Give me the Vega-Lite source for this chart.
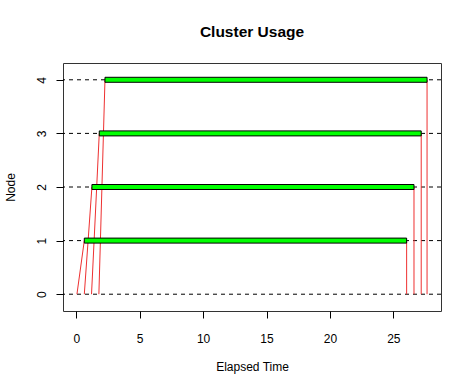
{
  "$schema": "https://vega.github.io/schema/vega-lite/v6.json",
  "width": 378,
  "height": 248,
  "autosize": {"type": "none"},
  "padding": {"left": 63, "top": 63, "right": 33, "bottom": 80},
  "background": "white",
  "title": {"text": "Cluster Usage", "font": "Liberation Sans", "fontSize": 15.5, "fontWeight": "bold", "color": "black", "anchor": "middle", "offset": 23},
  "config": {
    "view": {"stroke": "#333333", "strokeWidth": 1},
    "axis": {"grid": false, "domain": false, "ticks": true, "tickColor": "black", "tickSize": 7, "labelFont": "Liberation Sans", "labelFontSize": 12, "labelColor": "black", "titleFont": "Liberation Sans", "titleFontSize": 12, "titleFontWeight": "normal", "titleColor": "black"}
  },
  "datasets": {
    "levels": [{"node": 0}, {"node": 1}, {"node": 2}, {"node": 3}, {"node": 4}],
    "jobs": [
      {"node": 1, "send": 0.05, "start": 0.63, "end": 26.05},
      {"node": 2, "send": 0.63, "start": 1.23, "end": 26.63},
      {"node": 3, "send": 1.2, "start": 1.81, "end": 27.2},
      {"node": 4, "send": 1.78, "start": 2.26, "end": 27.66}
    ]
  },
  "layer": [
    {
      "data": {"name": "levels"},
      "mark": {"type": "rule", "strokeDash": [4, 4], "color": "black", "strokeWidth": 1},
      "encoding": {
        "y": {"field": "node", "type": "quantitative", "scale": {"domain": [-0.22, 4.22], "nice": false, "zero": false},
          "axis": {"title": "Node", "values": [0, 1, 2, 3, 4], "format": "d", "labelAngle": 270, "labelAlign": "center", "labelBaseline": "alphabetic", "labelPadding": 11, "titlePadding": 18}}
      }
    },
    {
      "data": {"name": "jobs"},
      "mark": {"type": "rule", "color": "#ee3030", "strokeWidth": 1},
      "encoding": {
        "x": {"field": "start", "type": "quantitative", "scale": {"domain": [-1.05, 28.76], "nice": false, "zero": false},
          "axis": {"title": "Elapsed Time", "values": [0, 5, 10, 15, 20, 25], "labelPadding": 15, "titlePadding": 17}},
        "x2": {"field": "send"},
        "y": {"field": "node", "type": "quantitative", "scale": {"domain": [-0.22, 4.22], "nice": false, "zero": false}},
        "y2": {"datum": 0}
      }
    },
    {
      "data": {"name": "jobs"},
      "mark": {"type": "rule", "color": "#ee3030", "strokeWidth": 1},
      "encoding": {
        "x": {"field": "end", "type": "quantitative", "scale": {"domain": [-1.05, 28.76], "nice": false, "zero": false}},
        "y": {"field": "node", "type": "quantitative", "scale": {"domain": [-0.22, 4.22], "nice": false, "zero": false}},
        "y2": {"datum": 0}
      }
    },
    {
      "data": {"name": "jobs"},
      "mark": {"type": "bar", "orient": "horizontal", "size": 5, "fill": "#00ff00", "stroke": "black", "strokeWidth": 1},
      "encoding": {
        "x": {"field": "start", "type": "quantitative", "scale": {"domain": [-1.05, 28.76], "nice": false, "zero": false}},
        "x2": {"field": "end"},
        "y": {"field": "node", "type": "quantitative", "scale": {"domain": [-0.22, 4.22], "nice": false, "zero": false}}
      }
    }
  ]
}
